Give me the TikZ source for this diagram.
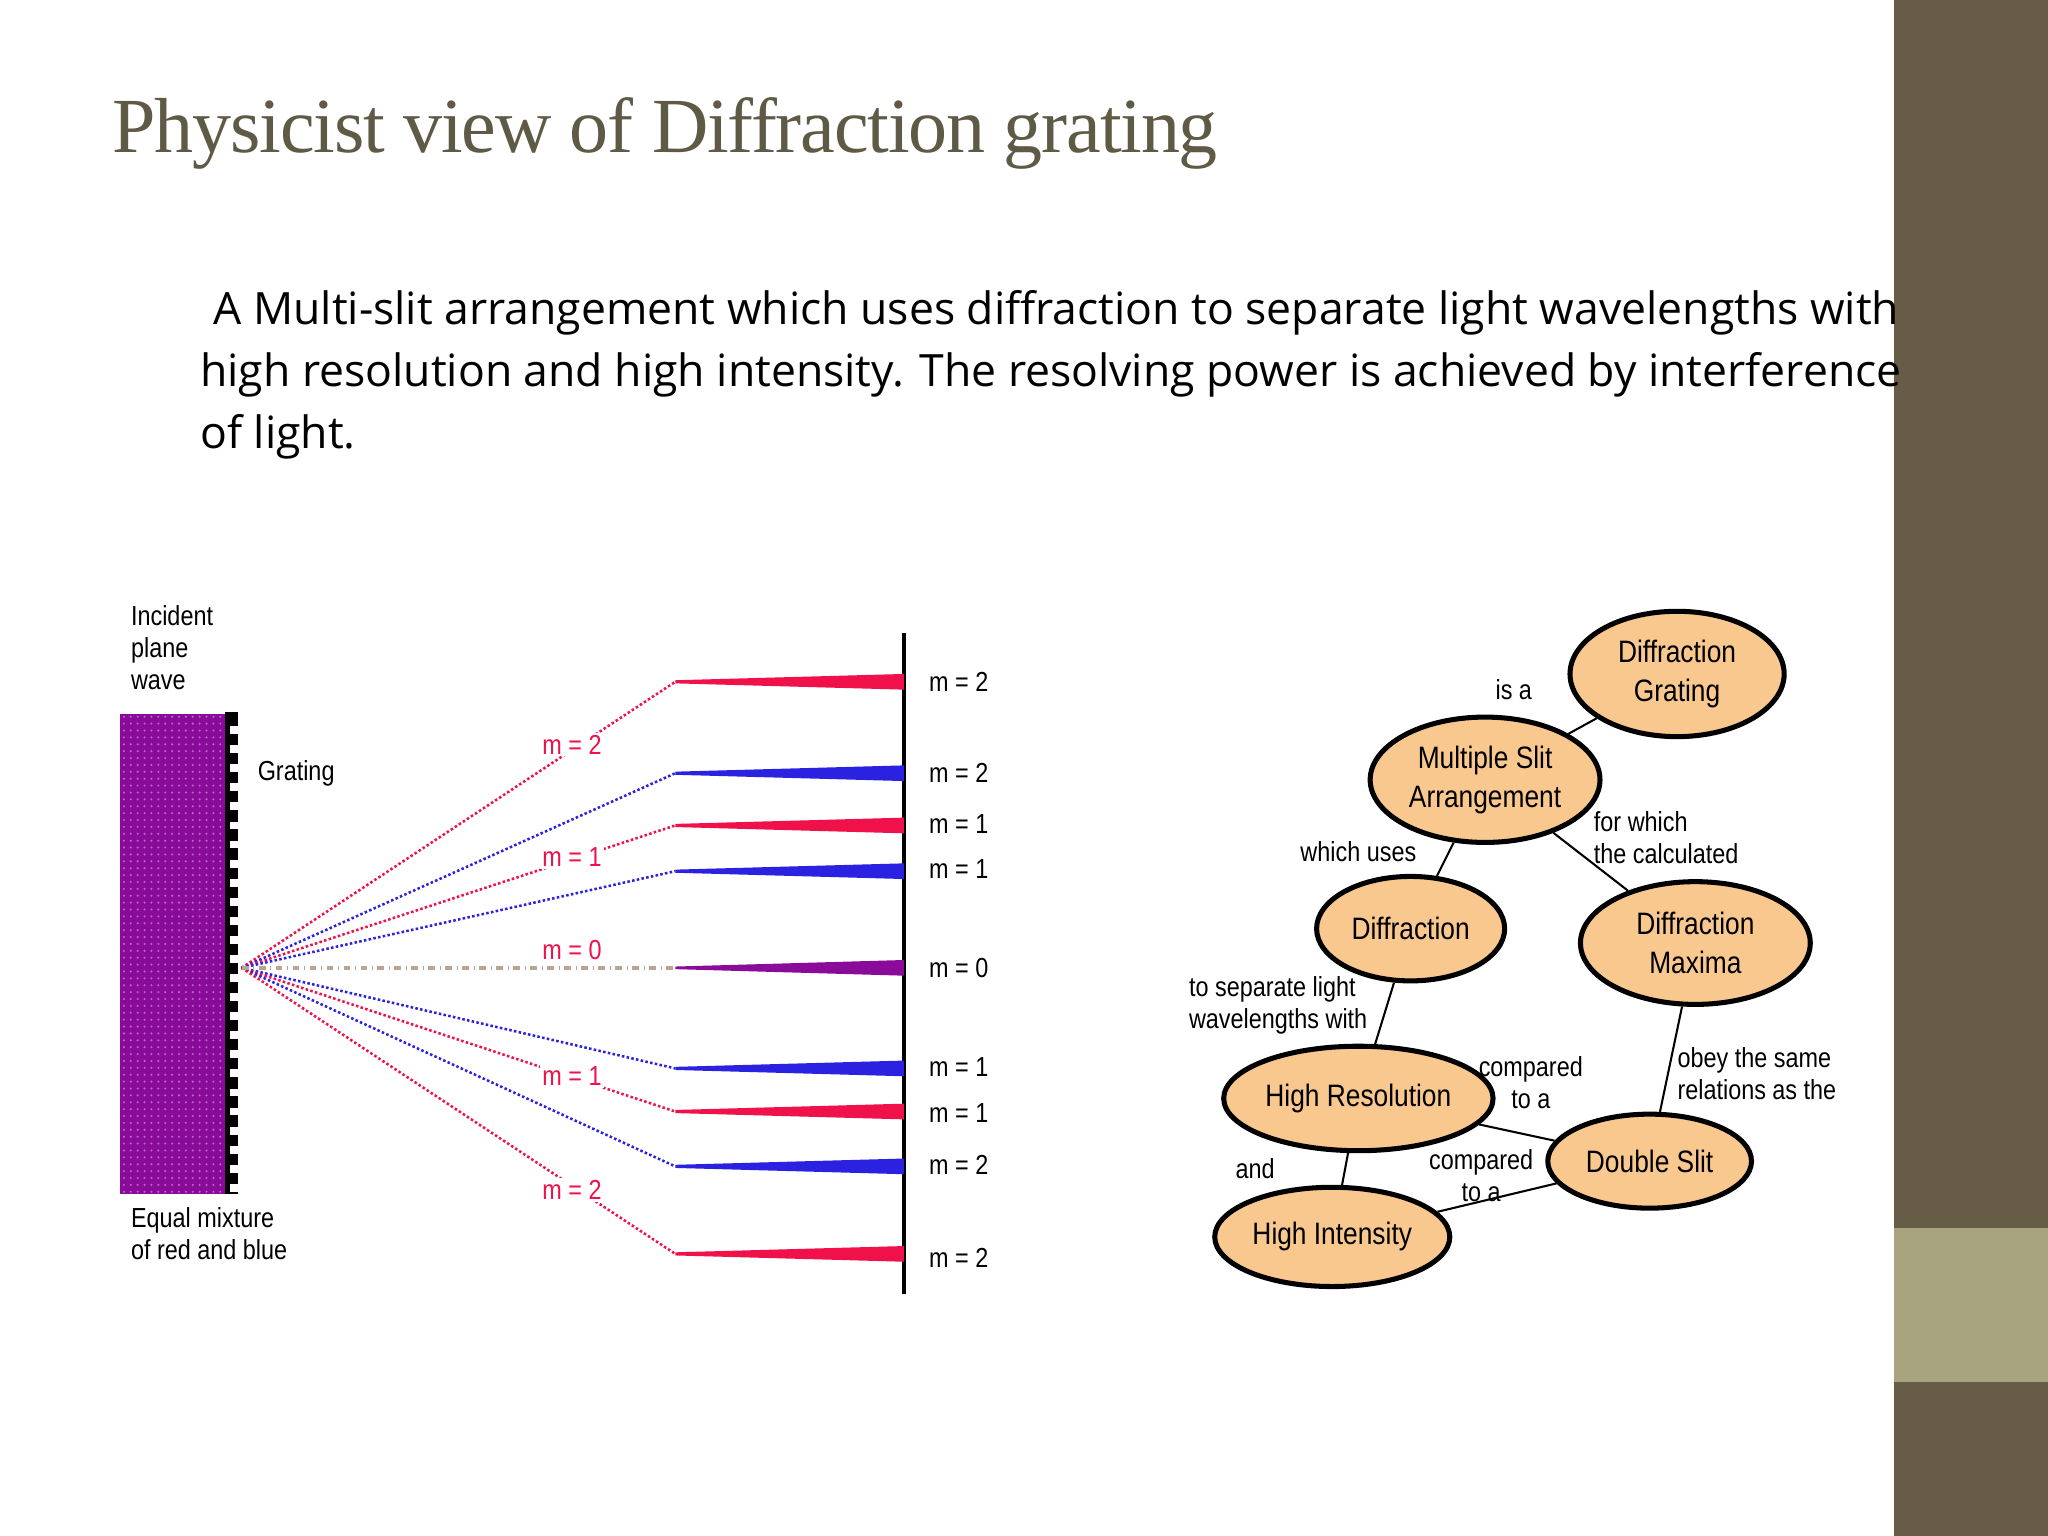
\documentclass[tikz,border=0pt]{standalone}
\usepackage{fontspec}
\setmainfont{Liberation Serif}
\newfontfamily\bodyf{Open Sans}
\newfontfamily\labf{Liberation Sans}
\usetikzlibrary{shapes.geometric,patterns}
\definecolor{olive}{HTML}{5E5A45}
\definecolor{bar}{HTML}{675C45}
\definecolor{band}{HTML}{A9A480}
\definecolor{peach}{HTML}{F9C88E}
\definecolor{rb}{HTML}{F0104A}
\definecolor{bb}{HTML}{2A22E0}
\definecolor{pb}{HTML}{8A0A9A}
\tikzset{
 lab/.style={font=\labf\fontsize{12}{14}\selectfont\addfontfeature{FakeStretch=0.85},align=left,inner sep=0pt},
 ml/.style={lab,anchor=west},
 cmap/.style={ellipse,draw=black,line width=2.2pt,fill=peach,font=\labf\fontsize{13.5}{17}\selectfont\addfontfeature{FakeStretch=0.85},align=center,inner sep=1pt},
 ed/.style={line width=0.9pt},
}
\begin{document}
\begin{tikzpicture}[x=0.02cm,y=-0.02cm]
\useasboundingbox (0,0) rectangle (1568,1176);
\fill[white] (0,0) rectangle (1568,1176);
\fill[bar] (1450,0) rectangle (1568,1176);
\fill[band] (1450,940) rectangle (1568,1058);
\node[anchor=west,text=olive,font=\fontsize{34}{38}\selectfont\addfontfeature{LetterSpace=-1.5}] (title) at (80,102) {Physicist view of Diffraction grating};
\node[anchor=north west,align=left,font=\bodyf\fontsize{19.4}{27}\selectfont,inner sep=0pt] (body) at (153,222)
 {\hspace{0.3em}A Multi-slit arrangement which uses diffraction to separate light wavelengths with\\high resolution and high intensity. The resolving power is achieved by interference\\of light.};
% grating
\fill[pb] (92,547) rectangle (172,914);
\fill[pattern=dots,pattern color=pb!60!white] (92,547) rectangle (172,914);
\fill[black] (172,545) rectangle (182,914);
\foreach \k in {0,...,24}{\fill[white] (176,556+\k*14.6) rectangle (182,562+\k*14.6);}
\coordinate (src) at (185,741);
\draw[black,line width=1.5pt] (692,485) -- (692,991);
\foreach \y/\c in {522/rb,592/bb,632/rb,667/bb,818/bb,851/rb,893/bb,960/rb}{
  \draw[\c,densely dotted,line width=1.1pt] (src) -- (517,\y);
  \fill[\c] (517,\y-1.2) -- (692,\y-6) -- (692,\y+6) -- (517,\y+1.2) -- cycle;
}
\draw[gray!60!brown!70,dash dot,line width=1.5pt] (src) -- (517,741);
\fill[pb] (517,740) -- (692,735) -- (692,747) -- (517,742) -- cycle;
\foreach \y/\t in {570/m = 2,656/m = 1,727/m = 0,824/m = 1,911/m = 2}{\node[lab,text=rb,fill=white,inner sep=1pt] at (438,\y) {\t};}
\foreach \y/\t in {522/2,592/2,631/1,665/1,741/0,817/1,852/1,892/2,963/2}{\node[ml] at (711,\y) {m = \t};}
\node[lab,anchor=north west] (inc) at (100,463) {Incident\\plane\\wave};
\node[ml] (gr) at (197,592) {Grating};
\node[lab,anchor=north west] (eq) at (100,924) {Equal mixture\\of red and blue};
% concept map
\node[cmap,minimum width=3.28cm,minimum height=1.92cm] (dg) at (1284,516) {Diffraction\\Grating};
\node[cmap,minimum width=3.52cm,minimum height=1.92cm] (ms) at (1137,597) {Multiple Slit\\Arrangement};
\node[cmap,minimum width=2.88cm,minimum height=1.6cm] (df) at (1080,711) {Diffraction};
\node[cmap,minimum width=3.52cm,minimum height=1.88cm] (dm) at (1298,722) {Diffraction\\Maxima};
\node[cmap,minimum width=3.8cm,minimum height=1.6cm] (hr) at (1040,841) {High Resolution};
\node[cmap,minimum width=3.12cm,minimum height=1.44cm] (ds) at (1263,889) {Double Slit};
\node[cmap,minimum width=3.6cm,minimum height=1.52cm] (hi) at (1020,947) {High Intensity};
\draw[ed] (dg) -- (ms); \draw[ed] (ms) -- (df); \draw[ed] (ms) -- (dm);
\draw[ed] (df) -- (hr); \draw[ed] (dm) -- (ds); \draw[ed] (hr) -- (ds);
\draw[ed] (hr) -- (hi); \draw[ed] (hi) -- (ds);
\node[lab] at (1159,528) {is a};
\node[lab] at (1040,652) {which uses};
\node[lab,anchor=west] at (1220,641) {for which\\the calculated};
\node[lab,anchor=west] at (910,770) {to separate light\\wavelengths with};
\node[lab,align=center] at (1172,829) {compared\\to a};
\node[lab,anchor=west] at (1284,822) {obey the same\\relations as the};
\node[lab] at (961,895) {and};
\node[lab,align=center] at (1134,900) {compared\\to a};
\end{tikzpicture}
\end{document}
